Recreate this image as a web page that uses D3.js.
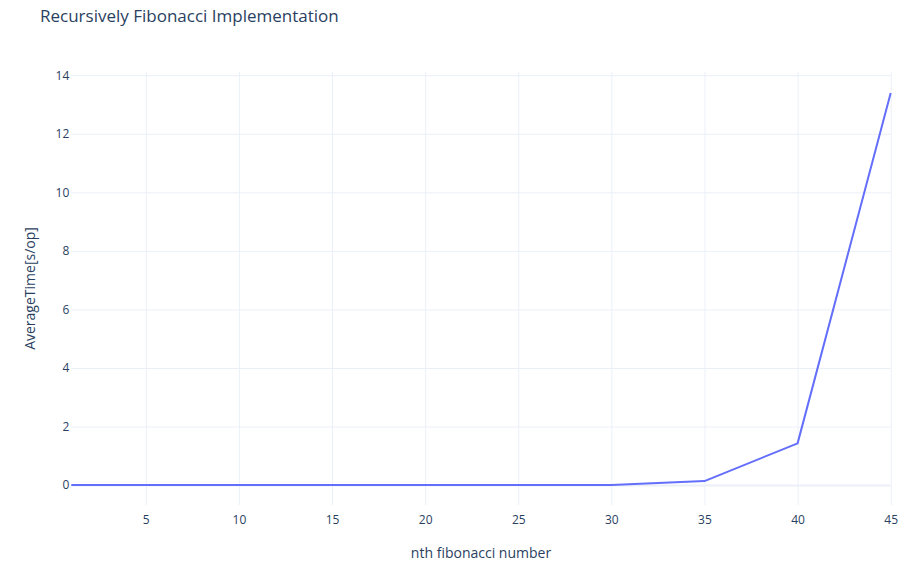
<!DOCTYPE html>
<html>
<head>
<meta charset="utf-8">
<script src="https://cdn.jsdelivr.net/npm/d3@7"></script>
<style>
  body { margin: 0; background: #fff; }
  svg { display: block; font-family: "Open Sans", "Noto Sans", sans-serif; }
</style>
</head>
<body>
<svg id="chart" width="916" height="580"></svg>
<script>
const titleText = "Recursively Fibonacci Implementation";
const xLabel = "nth fibonacci number";
const yLabel = "AverageTime[s/op]";
const nValues = [1, 5, 10, 15, 20, 25, 30, 35, 40, 45];
const avgTime = [0.000000003, 0.00000003, 0.0000003, 0.000004, 0.00004, 0.0004, 0.005, 0.137, 1.425, 13.39];
const xTicks = [5, 10, 15, 20, 25, 30, 35, 40, 45];
const yTicks = [0, 2, 4, 6, 8, 10, 12, 14];

const W = 916, H = 580;
const m = { left: 71.3, right: W - 890.7, top: 72, bottom: H - 505 };
const svg = d3.select("#chart");
const textColor = "#2a3f5f";
const gridColor = "#ebf0f8";
const FONT = '"Open Sans", "Noto Sans", sans-serif';

const x = d3.scaleLinear().domain([1, 45]).range([m.left, W - m.right]);
const y = d3.scaleLinear().domain([-0.68, 14.11]).range([H - m.bottom, m.top]);

// grid
const gx = svg.append("g")
  .attr("transform", `translate(0,${H - m.bottom})`)
  .call(d3.axisBottom(x).tickValues(xTicks).tickSize(-(H - m.top - m.bottom)).tickPadding(8).tickFormat(d3.format("d")));
gx.attr("font-family", FONT);
gx.select(".domain").remove();
gx.selectAll(".tick line").attr("stroke", gridColor).attr("stroke-width", 1);
gx.selectAll(".tick text").attr("fill", textColor).attr("font-size", 12).attr("dy", null).attr("y", 19);

const gy = svg.append("g")
  .attr("transform", `translate(${m.left},0)`)
  .call(d3.axisLeft(y).tickValues(yTicks).tickSize(-(W - m.left - m.right)).tickPadding(2).tickFormat(d3.format("d")));
gy.attr("font-family", FONT);
gy.select(".domain").remove();
gy.selectAll(".tick line")
  .attr("stroke", gridColor)
  .attr("stroke-width", d => d === 0 ? 2 : 1);
gy.selectAll(".tick text").attr("fill", textColor).attr("font-size", 12).attr("x", -2);

// line
const line = d3.line().x((d, i) => x(nValues[i])).y(d => y(d));
svg.append("path")
  .datum(avgTime)
  .attr("fill", "none")
  .attr("stroke", "#636efa")
  .attr("stroke-width", 2)
  .attr("stroke-linejoin", "round")
  .attr("d", line);

// title
svg.append("text")
  .attr("x", 40).attr("y", 22)
  .attr("fill", textColor).attr("font-size", 17)
  .text(titleText);

// axis titles
svg.append("text")
  .attr("x", (m.left + W - m.right) / 2).attr("y", 558)
  .attr("text-anchor", "middle")
  .attr("fill", textColor).attr("font-size", 14)
  .text(xLabel);

svg.append("text")
  .attr("transform", `translate(35,${(m.top + H - m.bottom) / 2}) rotate(-90)`)
  .attr("text-anchor", "middle")
  .attr("fill", textColor).attr("font-size", 14)
  .text(yLabel);
</script>
</body>
</html>
